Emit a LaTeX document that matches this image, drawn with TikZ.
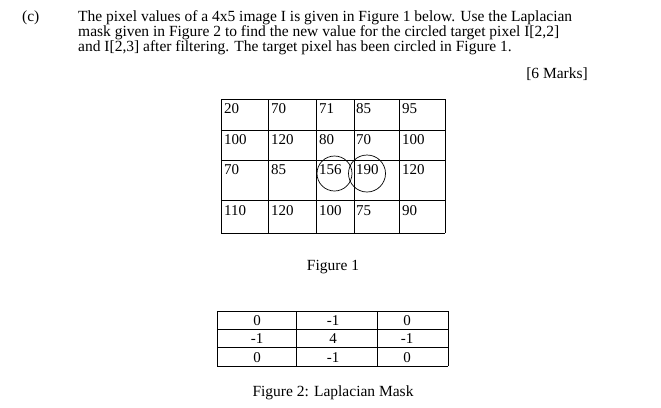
\documentclass[tikz,border=0pt]{standalone}
\usepackage{fontspec}
\setmainfont{Liberation Serif}
\begin{document}
\begin{tikzpicture}[x=1pt,y=-1pt,
  txt/.style={inner sep=0pt,anchor=base west,font=\fontsize{15.5}{16}\selectfont},
  cell/.style={inner sep=0pt,anchor=base west,font=\fontsize{15}{16}\selectfont},
  mcell/.style={inner sep=0pt,anchor=base,font=\fontsize{15}{16}\selectfont},
  grid/.style={draw=black,line width=0.8pt}]
\useasboundingbox (0,0) rectangle (661,407);
\node[txt] (c) at (22,21) {(c)};
\node[txt] (l1) at (78,21) {The pixel values of a 4x5 image I is given in Figure 1 below. Use the Laplacian};
\node[txt] (l2) at (78,36) {mask given in Figure 2 to find the new value for the circled target pixel I[2,2]};
\node[txt] (l3) at (78,51) {and I[2,3] after filtering. The target pixel has been circled in Figure 1.};
\node[txt,anchor=base east] (marks) at (588,78) {[6 Marks]};
% Figure 1
\foreach \x in {221,268,316,354,399,445} \draw[grid] (\x,99) -- (\x,233);
\foreach \y in {99,130,160,200,233} \draw[grid] (221,\y) -- (445,\y);
\def\xs{{224,271,319,356,402}}
\foreach \r/\yy/\vals in {0/113/{20,70,71,85,95},1/144/{100,120,80,70,100},2/174/{70,85,156,190,120},3/215/{110,120,100,75,90}}{
  \foreach \v [count=\i from 0] in \vals {
    \pgfmathsetmacro\xx{\xs[\i]}
    \node[cell] (v\r\i) at (\xx,\yy) {\v};
  }
}
\draw[line width=0.7pt] (334.5,173.5) circle (17.5);
\draw[line width=0.7pt] (367,173.5) circle (18.5);
\node[txt,anchor=base] (f1) at (333,270) {Figure 1};
% Figure 2
\foreach \x in {217,296,377,448} \draw[grid] (\x,311) -- (\x,366);
\foreach \y in {311,329,347,366} \draw[grid] (217,\y) -- (448,\y);
\foreach \r/\yy/\a/\b/\c in {0/325/0/-1/0,1/343/-1/4/-1,2/362/0/-1/0}{
  \node[mcell] (m\r a) at (257,\yy) {\a};
  \node[mcell] (m\r b) at (333,\yy) {\b};
  \node[mcell] (m\r c) at (407,\yy) {\c};
}
\node[txt,anchor=base] (f2) at (333,396) {Figure 2: Laplacian Mask};
\end{tikzpicture}
\end{document}
